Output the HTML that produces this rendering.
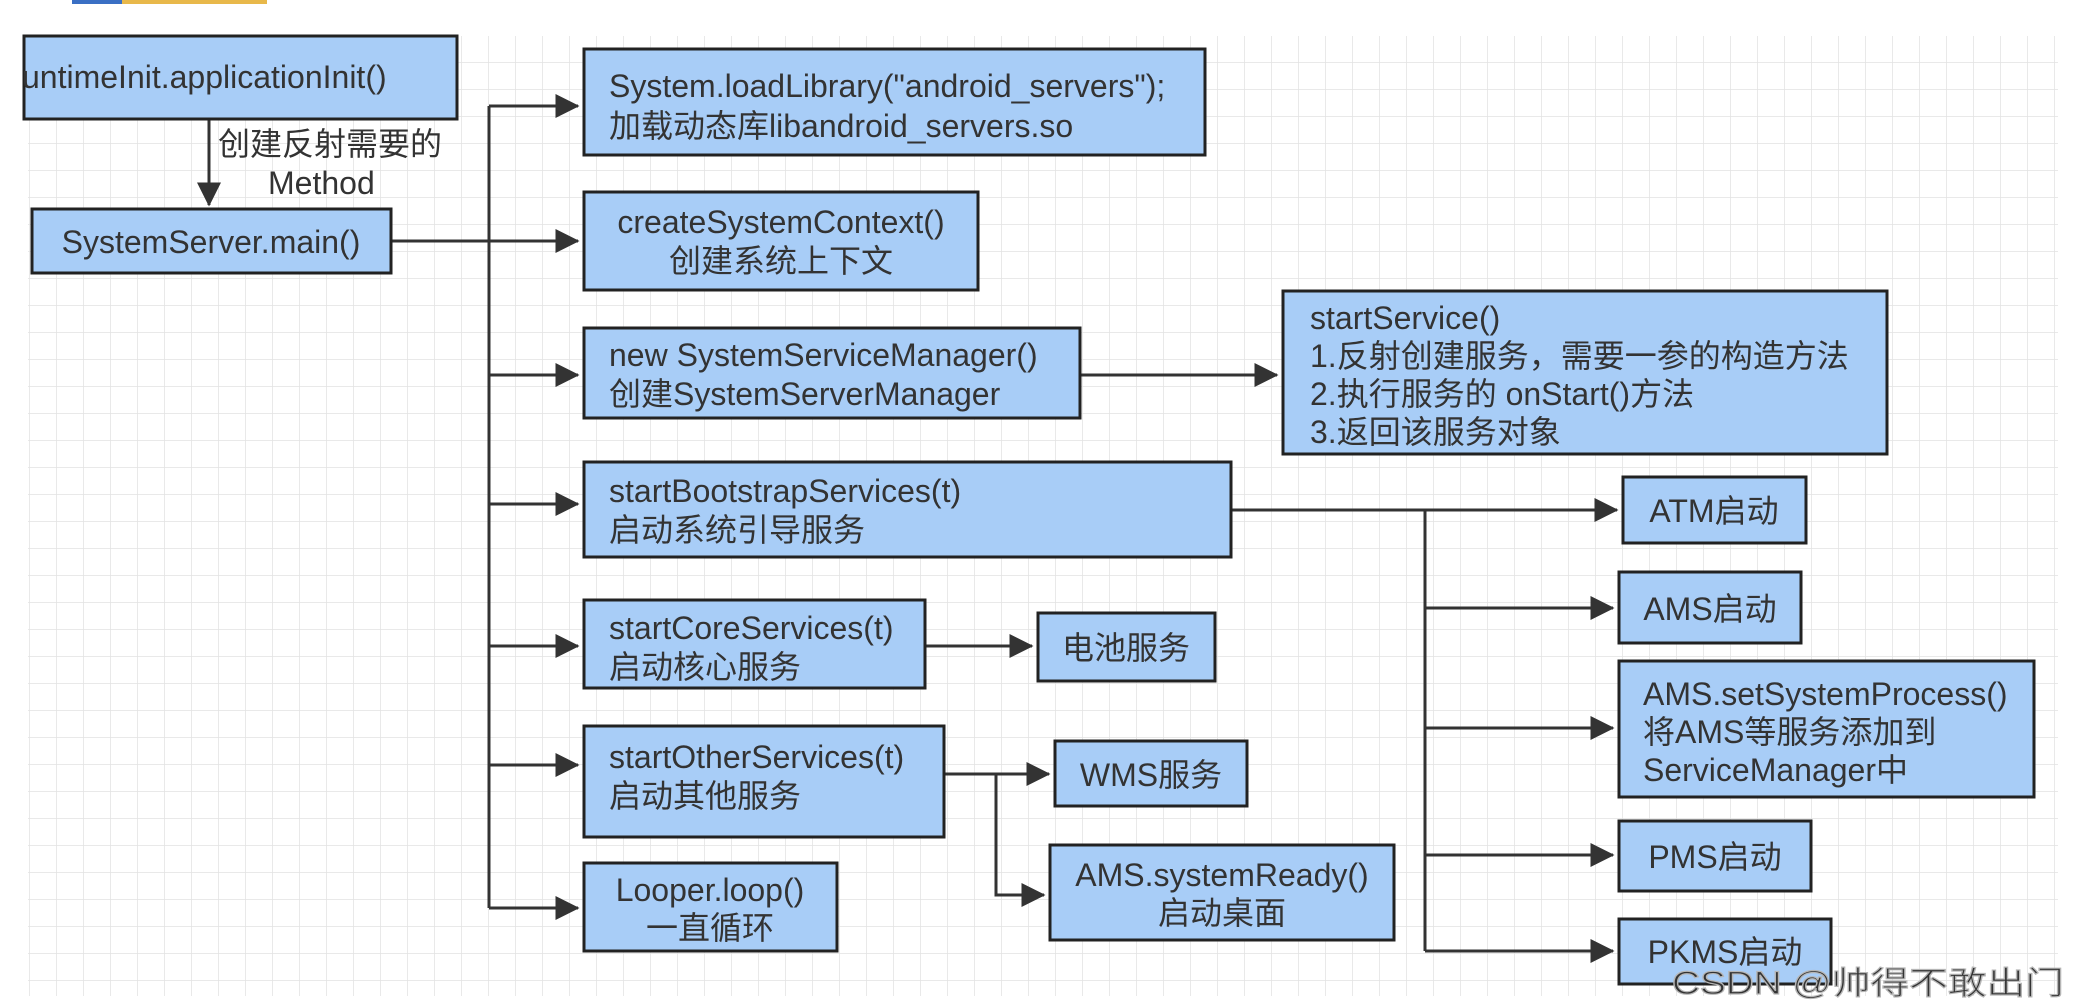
<!DOCTYPE html>
<html><head><meta charset="utf-8"><style>
html,body{margin:0;padding:0;background:#fff;}
svg{display:block;}
text{font-family:"Liberation Sans","Noto Sans CJK SC",sans-serif;font-size:32px;fill:#333;}
</style></head><body>
<svg width="2076" height="1008" viewBox="0 0 2076 1008" xmlns="http://www.w3.org/2000/svg">
<defs>
<pattern id="g" width="27" height="27" patternUnits="userSpaceOnUse" x="30" y="36">
<path d="M27 0V27M0 27H27" stroke="#e2e2e2" stroke-width="1.5" fill="none"/>
</pattern>
<marker id="a" markerWidth="8" markerHeight="8" refX="7.5" refY="4" orient="auto" markerUnits="strokeWidth">
<path d="M0,0L8,4L0,8z" fill="#333"/>
</marker>
<clipPath id="c1"><rect x="24" y="36" width="433" height="83"/></clipPath>
</defs>
<rect x="28" y="36" width="2030" height="960" fill="url(#g)"/>
<rect x="72" y="0" width="195" height="4" fill="#e8b84a"/>
<rect x="72" y="0" width="50" height="4" fill="#3a6fc4"/>
<g stroke="#333" stroke-width="3" fill="none">
<path d="M209 119V205" marker-end="url(#a)"/>
<path d="M391 241H578" marker-end="url(#a)"/>
<path d="M489 106V908"/>
<path d="M489 106H578" marker-end="url(#a)"/>
<path d="M489 375H578" marker-end="url(#a)"/>
<path d="M489 504H578" marker-end="url(#a)"/>
<path d="M489 646H578" marker-end="url(#a)"/>
<path d="M489 765H578" marker-end="url(#a)"/>
<path d="M489 908H578" marker-end="url(#a)"/>
<path d="M1080 375H1277" marker-end="url(#a)"/>
<path d="M925 646H1032" marker-end="url(#a)"/>
<path d="M944 774H1049" marker-end="url(#a)"/>
<path d="M996 774V895H1044" marker-end="url(#a)"/>
<path d="M1231 510H1617" marker-end="url(#a)"/>
<path d="M1425 510V951"/>
<path d="M1425 608H1613" marker-end="url(#a)"/>
<path d="M1425 728H1613" marker-end="url(#a)"/>
<path d="M1425 855H1613" marker-end="url(#a)"/>
<path d="M1425 951H1613" marker-end="url(#a)"/>
</g>
<g fill="#a8cdf7" stroke="#222" stroke-width="3">
<rect x="24" y="36" width="433" height="83"/>
<rect x="32" y="209" width="359" height="64"/>
<rect x="584" y="49" width="621" height="106"/>
<rect x="584" y="192" width="394" height="98"/>
<rect x="584" y="328" width="496" height="90"/>
<rect x="1283" y="291" width="604" height="163"/>
<rect x="584" y="462" width="647" height="95"/>
<rect x="584" y="600" width="341" height="88"/>
<rect x="1038" y="613" width="177" height="68"/>
<rect x="584" y="726" width="360" height="111"/>
<rect x="1055" y="741" width="192" height="65"/>
<rect x="1050" y="845" width="344" height="95"/>
<rect x="584" y="863" width="253" height="88"/>
<rect x="1623" y="477" width="183" height="66"/>
<rect x="1619" y="572" width="182" height="71"/>
<rect x="1619" y="661" width="415" height="136"/>
<rect x="1619" y="821" width="192" height="70"/>
<rect x="1619" y="919" width="212" height="65"/>
</g>
<rect x="0" y="30" width="22" height="95" fill="#fff"/>
<text x="22" y="88" font-size="34" clip-path="url(#c1)">untimeInit.applicationInit()</text>
<text x="218" y="155" font-size="29">创建反射需要的</text>
<text x="268" y="194" font-size="29">Method</text>
<text x="211" y="253" text-anchor="middle">SystemServer.main()</text>
<text x="609" y="97">System.loadLibrary("android_servers");</text>
<text x="609" y="137">加载动态库libandroid_servers.so</text>
<text x="781" y="233" text-anchor="middle">createSystemContext()</text>
<text x="781" y="272" text-anchor="middle">创建系统上下文</text>
<text x="609" y="366">new SystemServiceManager()</text>
<text x="609" y="405">创建SystemServerManager</text>
<text x="1310" y="329">startService()</text>
<text x="1310" y="367">1.反射创建服务，需要一参的构造方法</text>
<text x="1310" y="405">2.执行服务的 onStart()方法</text>
<text x="1310" y="443">3.返回该服务对象</text>
<text x="609" y="502">startBootstrapServices(t)</text>
<text x="609" y="541">启动系统引导服务</text>
<text x="609" y="639">startCoreServices(t)</text>
<text x="609" y="678">启动核心服务</text>
<text x="1126" y="659" text-anchor="middle">电池服务</text>
<text x="609" y="768">startOtherServices(t)</text>
<text x="609" y="807">启动其他服务</text>
<text x="1151" y="786" text-anchor="middle">WMS服务</text>
<text x="1222" y="886" text-anchor="middle">AMS.systemReady()</text>
<text x="1222" y="924" text-anchor="middle">启动桌面</text>
<text x="710" y="901" text-anchor="middle">Looper.loop()</text>
<text x="710" y="939" text-anchor="middle">一直循环</text>
<text x="1714" y="522" text-anchor="middle">ATM启动</text>
<text x="1710" y="620" text-anchor="middle">AMS启动</text>
<text x="1643" y="705">AMS.setSystemProcess()</text>
<text x="1643" y="743">将AMS等服务添加到</text>
<text x="1643" y="781">ServiceManager中</text>
<text x="1715" y="868" text-anchor="middle">PMS启动</text>
<text x="1725" y="963" text-anchor="middle">PKMS启动</text>
<text x="1672" y="994" font-size="42" textLength="392" lengthAdjust="spacingAndGlyphs" fill="#fff" stroke="#b5b5b5" stroke-width="1.2">CSDN @帅得不敢出门</text>
</svg>
</body></html>
